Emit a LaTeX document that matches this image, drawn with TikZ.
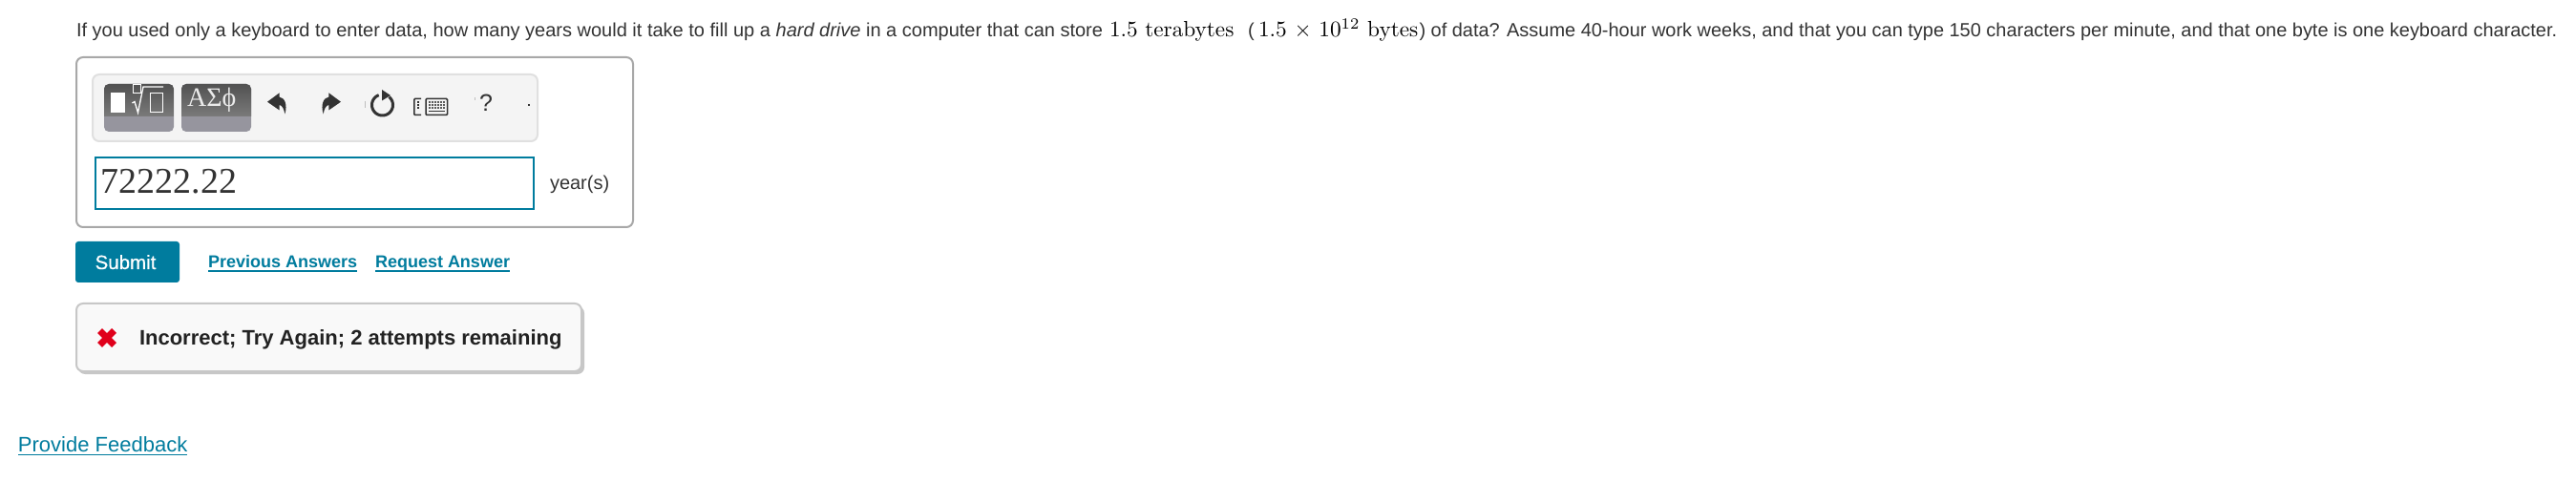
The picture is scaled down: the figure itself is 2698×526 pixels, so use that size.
\documentclass[tikz,border=0pt]{standalone}
\usepackage{graphicx}
\usepackage{fontspec}
\newfontfamily\ar{Liberation Sans}
\newfontfamily\arm[FakeBold=0.35]{Liberation Sans}
\newfontfamily\ser{Liberation Serif}
\usetikzlibrary{calc}
\definecolor{teal}{HTML}{007C9E}
\definecolor{ink}{HTML}{333333}
\definecolor{inkb}{HTML}{222222}
\definecolor{iconc}{HTML}{333333}
\definecolor{btnlowc}{HTML}{96959E}
\definecolor{wrong}{HTML}{E0001B}
\tikzset{
  x=1pt,y=-1pt,
  txt/.style={inner sep=0pt,outer sep=0pt,anchor=base west,text=ink,font=\ar\fontsize{20}{24}\selectfont},
  mathtxt/.style={inner sep=0pt,outer sep=0pt,anchor=base west,text=black,font=\fontsize{10}{12}\selectfont},
  linktxt/.style={txt,text=teal,font=\ar\bfseries\fontsize{18}{22}\selectfont},
  under/.style={draw=teal,line width=1.6pt},
  panel/.style={draw=#1,line width=2pt,rounded corners=7pt},
  icon/.style={fill=iconc,draw=none},
  btnlow/.style={fill=btnlowc,draw=none,rounded corners=5pt},
}
\begin{document}
\begin{tikzpicture}
\useasboundingbox (0,0) rectangle (2698,526);
\fill[white] (0,0) rectangle (2698,526);
% question
\node[txt] (qa) at (80,39) {If you used only a keyboard to enter data, how many years would it take to fill up a \textit{hard drive} in a computer that can store};
\node[mathtxt] (qb) at (1162,39) {\scalebox{2.32}{1.5 terabytes}};
\node[txt] (qp) at (1307,39) {(};
\node[mathtxt] (qc) at (1318,39) {\scalebox{2.33}{1.5 $\times$ 10$^{12}$ bytes}};
\node[txt,font=\ar\fontsize{19.95}{24}\selectfont] (qd) at (1486.5,39) {) of data? Assume 40-hour work weeks, and that you can type 150 characters per minute, and that one byte is one keyboard character.};
% outer panel
\draw[panel=black!34,fill=white] (80,60) rectangle (663,238);
\draw[panel=black!12,fill=black!4.5] (97,78) rectangle (563,148);
% buttons
\foreach \xa/\xb in {109/182,190/263}{
  \fill[btnlow] (\xa,88) rectangle (\xb,138);
  \begin{scope}
    \clip[rounded corners=5pt] (\xa,88) rectangle (\xb,138);
    \shade[top color=black!68,bottom color=black!52] (\xa,88) rectangle (\xb,122);
  \end{scope}
}
\fill[white] (116,97) rectangle (131,118);
\draw[white,line width=1pt] (139,88.5) rectangle (147,98);
\draw[white,line width=1.3pt] (138.5,108) -- (141,106.5) -- (144.5,118) -- (150,91) -- (171,91);
\draw[white,line width=1pt] (157,98) rectangle (170,118);
\node[inner sep=0pt,anchor=base west,text=white!92!black,font=\ser\fontsize{28}{30}\selectfont] (greek) at (196,112) {ΑΣϕ};
% undo / redo
\fill[icon] (280,106.7) -- (292.7,97.3) -- (292.7,101.7) .. controls (298,102) and (301.5,110) .. (298.3,119.5) .. controls (297.5,114) and (295.5,110.5) .. (292.7,110) -- (292.7,115.5) -- cycle;
\begin{scope}[shift={(637,0)},xscale=-1]
\fill[icon] (280,106.7) -- (292.7,97.3) -- (292.7,101.7) .. controls (298,102) and (301.5,110) .. (298.3,119.5) .. controls (297.5,114) and (295.5,110.5) .. (292.7,110) -- (292.7,115.5) -- cycle;
\end{scope}
% reload
\draw[iconc,line width=3pt] plot[domain=-50:250,samples=50,smooth] ({400.5+11*cos(\x)},{110+11*sin(\x)});
\fill[icon] (400,94) -- (409,100) -- (400,105.5) -- cycle;
\draw[black!25,line width=.8pt] (382,106) -- (382,113);
% keyboard
\draw[iconc,line width=1.5pt,rounded corners=1pt] (441,103.5) -- (433.8,103.5) -- (433.8,120.5) -- (441,120.5);
\draw[iconc,line width=1.5pt,rounded corners=1pt] (446,103.5) rectangle (468.5,120.5);
\foreach \ky in {106.5,109.5,112.5}{
  \foreach \kx in {449,452,455,458,461,464}{\fill[iconc!80] (\kx,\ky) rectangle +(1.6,1.6);}
  \fill[iconc] (436.5,\ky) rectangle +(2,2);
}
\draw[iconc,line width=1.2pt] (449,116.5) -- (466,116.5);
% help
\node[inner sep=0pt,anchor=base,text=ink,font=\ar\fontsize{25}{28}\selectfont] (help) at (509,117) {?};
\draw[black!25,line width=.8pt] (497,102) -- (497,105);
\fill[iconc] (553,109) rectangle +(1.6,2.4);
% input
\draw[teal,line width=2.6pt,fill=white] (100,165) rectangle (559,219);
\node[txt,text=ink,font=\ser\fontsize{38}{40}\selectfont] (val) at (105.5,203) {72222.22};
\node[txt] (unit) at (576,199) {year(s)};
% submit
\fill[teal,rounded corners=3pt] (79,253) rectangle (188,296);
\node[txt,text=white,font=\arm\fontsize{20.5}{24}\selectfont] (sub) at (99.6,282) {Submit};
\node[linktxt] (prev) at (218,281) {Previous Answers};
\draw[under] ([yshift=-3.3pt]prev.base west) -- ([yshift=-3.3pt]prev.base east);
\node[linktxt] (req) at (393,281) {Request Answer};
\draw[under] ([yshift=-3.3pt]req.base west) -- ([yshift=-3.3pt]req.base east);
% feedback
\fill[black!22,rounded corners=7pt] (82,321) rectangle (612,392);
\draw[panel=black!22,fill=black!2.5] (80,318) rectangle (609,389);
\draw[wrong,line width=7pt] (104.5,346.5) -- (119.5,361.5) (119.5,346.5) -- (104.5,361.5);
\node[txt,text=inkb,font=\ar\bfseries\fontsize{22}{27}\selectfont] (msg) at (146,362) {Incorrect; Try Again; 2 attempts remaining};
% provide feedback
\node[txt,text=teal,font=\ar\fontsize{22}{28}\selectfont] (fb) at (19,473) {Provide Feedback};
\draw[under] ([yshift=-3.3pt]fb.base west) -- ([yshift=-3.3pt]fb.base east);
\end{tikzpicture}
\end{document}
